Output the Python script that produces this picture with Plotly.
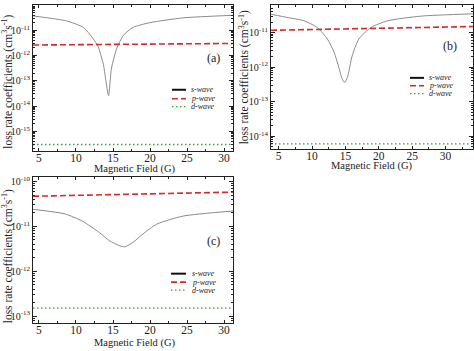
import plotly.graph_objects as go

# ---------------- data ----------------
# panel (a)
a_s_field = [4.2, 6.5, 8.7, 11.0, 12.3, 13.0, 13.7, 14.0, 14.4, 14.8, 15.5, 16.4, 17.7, 20.0, 24.5, 31.2]
a_s_rate = [3.7e-11, 3.0e-11, 2.35e-11, 1.3e-11, 4.7e-12, 2.2e-12, 4.5e-13, 1.2e-13, 2.6e-14, 3.2e-13, 1.9e-12, 6.3e-12, 1.3e-11, 2.0e-11, 3.1e-11, 3.9e-11]
a_p_field = [4.2, 31.2]
a_p_rate = [2.6e-12, 3.0e-12]
a_d_field = [4.2, 31.2]
a_d_rate = [3.0e-16, 3.0e-16]
a_yticks = [1e-15, 1e-14, 1e-13, 1e-12, 1e-11]
a_ytext = ["10<sup>-15</sup>", "10<sup>-14</sup>", "10<sup>-13</sup>", "10<sup>-12</sup>", "10<sup>-11</sup>"]

# panel (b)
b_s_field = [3.85, 6.5, 8.8, 10.8, 12.3, 13.3, 14.0, 14.5, 14.9, 15.3, 16.0, 17.0, 18.8, 21.3, 26.3, 34.1]
b_s_rate = [3.4e-11, 2.7e-11, 2.2e-11, 1.4e-11, 6.5e-12, 2.7e-12, 1.0e-12, 4.6e-13, 3.6e-13, 5.1e-13, 2.1e-12, 6.5e-12, 1.4e-11, 2.2e-11, 3.0e-11, 3.5e-11]
b_p_field = [3.85, 34.1]
b_p_rate = [1.17e-11, 1.5e-11]
b_d_field = [3.85, 34.1]
b_d_rate = [6.0e-15, 6.0e-15]
b_yticks = [1e-14, 1e-13, 1e-12, 1e-11]
b_ytext = ["10<sup>-14</sup>", "10<sup>-13</sup>", "10<sup>-12</sup>", "10<sup>-11</sup>"]

# panel (c)
c_s_field = [4.2, 8.5, 10.9, 13.2, 14.5, 15.9, 16.6, 17.7, 19.05, 20.9, 24.5, 31.2]
c_s_rate = [2.4e-11, 1.9e-11, 1.3e-11, 7.2e-12, 4.8e-12, 3.7e-12, 3.5e-12, 4.4e-12, 6.8e-12, 1.12e-11, 1.7e-11, 2.2e-11]
c_p_field = [4.2, 31.2]
c_p_rate = [4.7e-11, 5.8e-11]
c_d_field = [4.2, 31.2]
c_d_rate = [1.5e-13, 1.5e-13]
c_yticks = [1e-13, 1e-12, 1e-11, 1e-10]
c_ytext = ["10<sup>-13</sup>", "10<sup>-12</sup>", "10<sup>-11</sup>", "10<sup>-10</sup>"]

x_ticks = [5, 10, 15, 20, 25, 30]
panel_labels = ["(a)", "(b)", "(c)"]
x_title = "Magnetic Field (G)"
y_title = "loss rate coefficients (cm<sup>3</sup>s<sup>-1</sup>)"
legend_names = ["s-wave", "p-wave", "d-wave"]

# ---------------- style ----------------
W, H = 474, 351
FONT = "Liberation Serif"
INK = "#222"
S_COLOR = "#8a8a8a"
P_COLOR = "#d42a2a"
D_COLOR = "#3c9a3c"
P_DASH = "6px,3px"
D_DASH = "1.5px,2.5px"
KEY_COLORS = ["#111", P_COLOR, D_COLOR]
KEY_DASH = ["solid", P_DASH, D_DASH]
KEY_WIDTH = [2, 1.6, 1.3]


def fx(px):
    return px / W


def fy(py):
    return 1 - py / H


panels = [
    dict(s=(a_s_field, a_s_rate), p=(a_p_field, a_p_rate), d=(a_d_field, a_d_rate), yt_v=a_yticks, yt_t=a_ytext,
         xd=[fx(33), fx(233)], yd=[fy(149), fy(2)], xr=[4.2, 31.2], yr=[-15.77, -10.0],
         lab=(213, 55), key_x=(172, 186, 189), key_y=[87.5, 96.5, 104.5],
         xt=(135, 167), yt=(7.5, 80)),
    dict(s=(b_s_field, b_s_rate), p=(b_p_field, b_p_rate), d=(b_d_field, b_d_rate), yt_v=b_yticks, yt_t=b_ytext,
         xd=[fx(271), fx(473)], yd=[fy(147), fy(2)], xr=[3.85, 34.1], yr=[-14.36, -10.2],
         lab=(450, 43), key_x=(410, 424, 427), key_y=[75.5, 83.5, 91.5],
         xt=(372, 164), yt=(244, 75)),
    dict(s=(c_s_field, c_s_rate), p=(c_p_field, c_p_rate), d=(c_d_field, c_d_rate), yt_v=c_yticks, yt_t=c_ytext,
         xd=[fx(33), fx(233)], yd=[fy(323), fy(176)], xr=[4.2, 31.2], yr=[-13.16, -9.91],
         lab=(213, 240), key_x=(171, 186, 190), key_y=[273, 281.5, 289.5],
         xt=(135, 343), yt=(7.5, 256)),
]

fig = go.Figure()
annotations = []
shapes = []
layout = dict(
    width=W, height=H, margin=dict(l=0, r=0, t=0, b=0),
    paper_bgcolor="white", plot_bgcolor="white",
    font=dict(family=FONT, size=11, color=INK),
    showlegend=False,
)

for i, pn in enumerate(panels):
    n = "" if i == 0 else str(i + 1)
    xa, ya = "x" + n, "y" + n
    fig.add_trace(go.Scatter(x=pn["s"][0], y=pn["s"][1], mode="lines", name=legend_names[0],
                             line=dict(color=S_COLOR, width=1, shape="spline", smoothing=0.6),
                             xaxis=xa, yaxis=ya))
    fig.add_trace(go.Scatter(x=pn["p"][0], y=pn["p"][1], mode="lines", name=legend_names[1],
                             line=dict(color=P_COLOR, width=1.6, dash=P_DASH), xaxis=xa, yaxis=ya))
    fig.add_trace(go.Scatter(x=pn["d"][0], y=pn["d"][1], mode="lines", name=legend_names[2],
                             line=dict(color=D_COLOR, width=1.3, dash=D_DASH), xaxis=xa, yaxis=ya))

    axcommon = dict(showline=True, linecolor=INK, linewidth=1, mirror="ticks", ticks="inside",
                    tickcolor=INK, showgrid=False, zeroline=False)
    layout["xaxis" + n] = dict(axcommon, domain=pn["xd"], range=pn["xr"], anchor=ya,
                               tickmode="array", tickvals=x_ticks, ticklen=3, ticklabelstandoff=-4,
                               tickfont=dict(family=FONT, size=11.5, color=INK),
                               minor=dict(ticks="inside", tickmode="linear", tick0=0, dtick=2.5, ticklen=2, tickcolor=INK))
    layout["yaxis" + n] = dict(axcommon, domain=pn["yd"], type="log", range=pn["yr"], anchor=xa,
                               tickmode="array", tickvals=pn["yt_v"], ticktext=pn["yt_t"], ticklen=4,
                               tickfont=dict(family=FONT, size=10, color=INK),
                               minor=dict(ticks="inside", ticklen=2, tickcolor=INK, dtick="D1"))

    # panel label
    annotations.append(dict(text=panel_labels[i], x=fx(pn["lab"][0]), y=fy(pn["lab"][1]), xref="paper", yref="paper",
                            xanchor="center", yanchor="middle", showarrow=False,
                            font=dict(family=FONT, size=12, color=INK)))
    # axis titles
    annotations.append(dict(text=x_title, x=fx(pn["xt"][0]), y=fy(pn["xt"][1]), xref="paper", yref="paper",
                            xanchor="center", yanchor="middle", showarrow=False,
                            font=dict(family=FONT, size=10.5, color=INK)))
    annotations.append(dict(text=y_title, x=fx(pn["yt"][0]), y=fy(pn["yt"][1]), xref="paper", yref="paper",
                            xanchor="center", yanchor="middle", showarrow=False, textangle=-90,
                            font=dict(family=FONT, size=11.5, color=INK)))
    # legend key
    x0, x1, xtxt = pn["key_x"]
    for name, col, dash, w, ky in zip(legend_names, KEY_COLORS, KEY_DASH, KEY_WIDTH, pn["key_y"]):
        shapes.append(dict(type="line", xref="paper", yref="paper", x0=fx(x0), x1=fx(x1), y0=fy(ky), y1=fy(ky),
                           line=dict(color=col, width=w, dash=dash)))
        annotations.append(dict(text="<i>" + name + "</i>", x=fx(xtxt), y=fy(ky), xref="paper", yref="paper",
                                xanchor="left", yanchor="middle", showarrow=False,
                                font=dict(family=FONT, size=8, color=INK)))

layout["annotations"] = annotations
layout["shapes"] = shapes
fig.update_layout(**layout)
fig.write_html("out.html")
